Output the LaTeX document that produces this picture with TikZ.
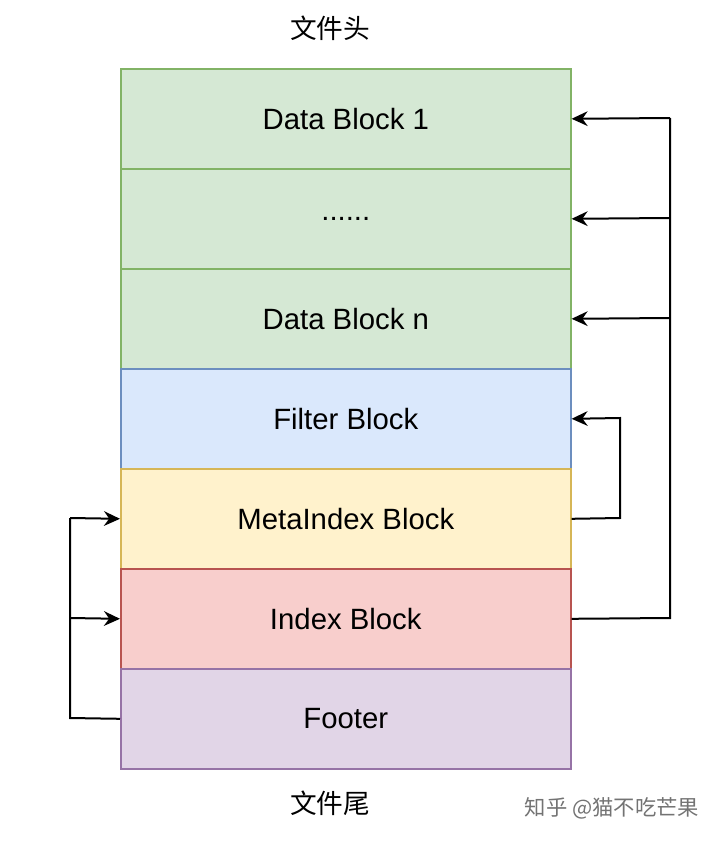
\documentclass[tikz,border=0pt]{standalone}
\usepackage{fontspec}
\setmainfont{Liberation Sans}
\newfontfamily\cjk{Noto Sans CJK SC}
\usetikzlibrary{arrows.meta}
\begin{document}
\begin{tikzpicture}[x=0.75pt,y=-0.75pt,
 arr/.style={line width=1.5pt,-{Stealth[length=12pt,width=11pt]}}]
\useasboundingbox (0,0) rectangle (718,842);
\definecolor{gf}{HTML}{D5E8D4}\definecolor{gs}{HTML}{82B366}
\definecolor{bf}{HTML}{DAE8FC}\definecolor{bs}{HTML}{6C8EBF}
\definecolor{yf}{HTML}{FFF2CC}\definecolor{ys}{HTML}{D6B656}
\definecolor{rf}{HTML}{F8CECC}\definecolor{rs}{HTML}{B85450}
\definecolor{pf}{HTML}{E1D5E7}\definecolor{ps}{HTML}{9673A6}
\tikzset{s/.style 2 args={fill=#1,draw=#2,line width=1.2pt,minimum width=337.5pt,minimum height=75pt,anchor=north west,inner sep=0pt,font=\fontsize{22}{26}\selectfont}}
\node[s={gf}{gs}] (d1) at (120,68) {Data Block 1};
\node[s={gf}{gs}] (dd) at (120,168) {......};
\node[s={gf}{gs}] (dn) at (120,268) {Data Block n};
\node[s={bf}{bs}] (fb) at (120,368) {Filter Block};
\node[s={yf}{ys}] (mi) at (120,468) {MetaIndex Block};
\node[s={rf}{rs}] (ib) at (120,568) {Index Block};
\node[s={pf}{ps}] (ft) at (120,668) {Footer};
\node[font=\cjk\fontsize{20}{24}\selectfont] (h) at (330,28) {文件头};
\node[font=\cjk\fontsize{20}{24}\selectfont] (t) at (330,803) {文件尾};
\node[font=\cjk\fontsize{16}{20}\selectfont,text=black!55] (w) at (612,808) {知乎 @猫不吃芒果};
\coordinate (r) at (670,618);
\draw[line width=1.5pt] (ib.east) -- (r) -- (670,118);
\draw[arr] (670,118) -- (d1.east);
\draw[arr] (670,218) -- (dd.east);
\draw[arr] (670,318) -- (dn.east);
\draw[arr] (mi.east) -- (620,518) -- (620,418) -- (fb.east);
\draw[line width=1.5pt] (ft.west) -- (70,718) -- (70,518);
\draw[arr] (70,518) -- (mi.west);
\draw[arr] (70,618) -- (ib.west);
\end{tikzpicture}
\end{document}
